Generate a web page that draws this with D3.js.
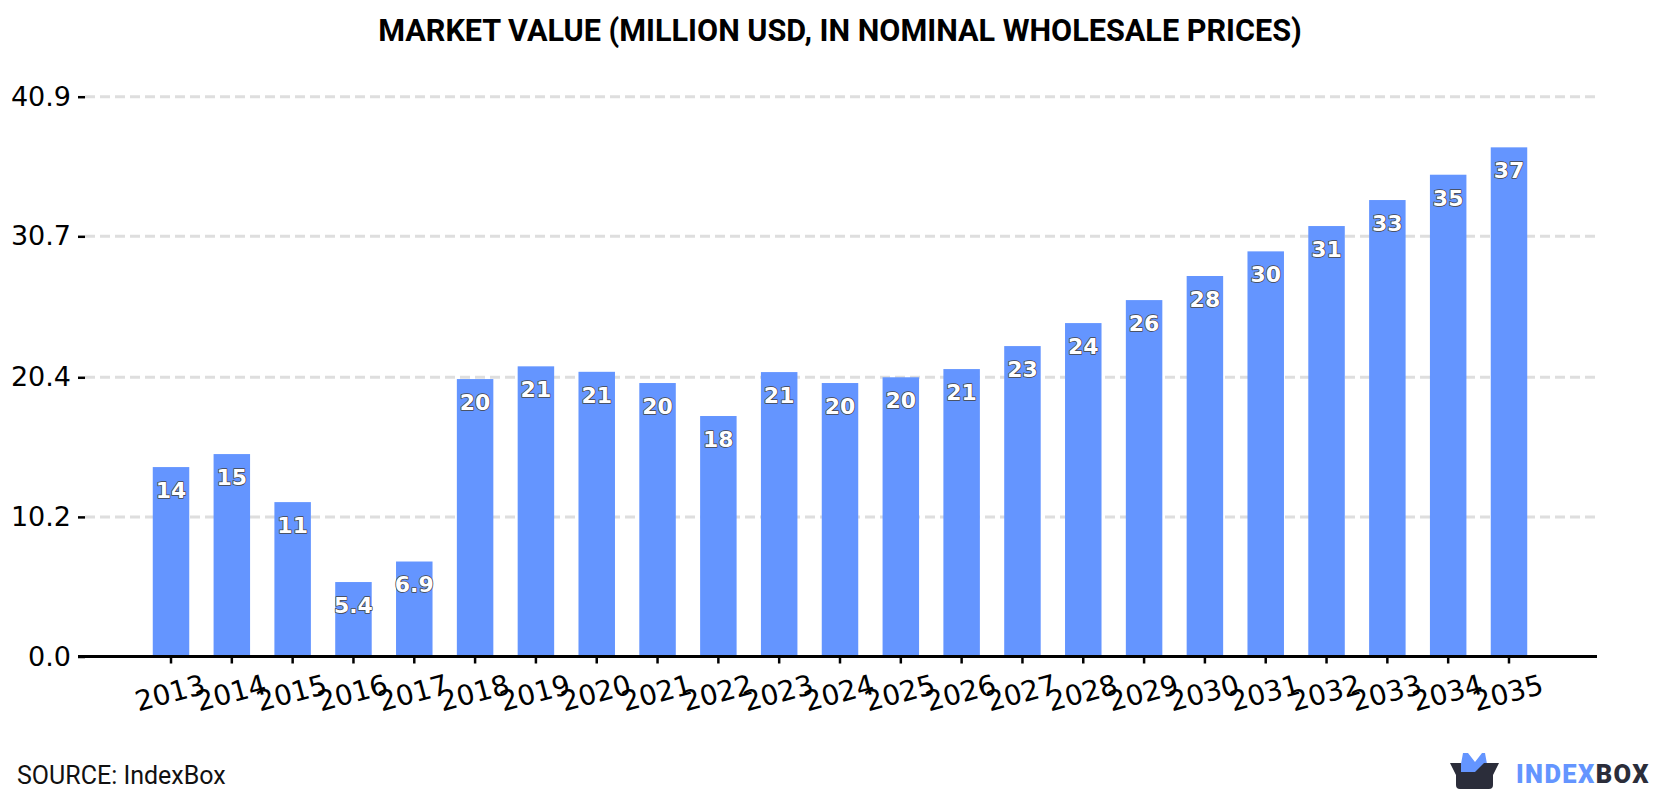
<!DOCTYPE html>
<html>
<head>
<meta charset="utf-8">
<script src="https://cdn.jsdelivr.net/npm/d3@7/dist/d3.min.js"></script>
<style>
html, body { margin: 0; padding: 0; background: #fff; }
svg { display: block; }
</style>
</head>
<body>
<svg id="chart" width="1680" height="800"></svg>
<script>
const years = [2013, 2014, 2015, 2016, 2017, 2018, 2019, 2020, 2021, 2022, 2023, 2024,
               2025, 2026, 2027, 2028, 2029, 2030, 2031, 2032, 2033, 2034, 2035];
const marketValue = [13.84, 14.79, 11.28, 5.44, 6.94, 20.27, 21.2, 20.8, 19.98, 17.57, 20.78, 19.98,
                     20.4, 21.0, 22.68, 24.36, 26.04, 27.8, 29.6, 31.45, 33.35, 35.2, 37.2];
const yTicks = [0, 10.2, 20.4, 30.7, 40.9];
const titleText = "MARKET VALUE (MILLION USD, IN NOMINAL WHOLESALE PRICES)";
const sourceText = "SOURCE: IndexBox";

const BAR = "#6495ff";
const INK = "#000";
const DEJAVU = "'DejaVu Sans', sans-serif";
const ROBOTO = "Roboto, sans-serif";

const svg = d3.select("#chart");

const x = d3.scaleBand()
  .domain(years)
  .range([140.6, 1539.4])
  .paddingInner(0.4)
  .paddingOuter(0.2);

const y = d3.scaleLinear()
  .domain([0, 40.9])
  .range([656.5, 96.7]);

// Dashed horizontal grid, behind the bars
svg.append("g")
  .selectAll("line")
  .data(yTicks.filter(d => d > 0))
  .join("line")
  .attr("x1", 85)
  .attr("x2", 1596)
  .attr("y1", d => y(d))
  .attr("y2", d => y(d))
  .attr("stroke", "#dedede")
  .attr("stroke-width", 3)
  .attr("stroke-dasharray", "10,5");

// Bars
svg.append("g")
  .selectAll("rect")
  .data(marketValue)
  .join("rect")
  .attr("x", (d, i) => x(years[i]))
  .attr("width", x.bandwidth())
  .attr("y", d => y(d))
  .attr("height", d => y(0) - y(d))
  .attr("fill", BAR);

// Value labels: two significant digits, white with a thin grey outline
const valueLabel = d3.format(".2~r");
svg.append("g")
  .selectAll("text")
  .data(marketValue)
  .join("text")
  .attr("x", (d, i) => x(years[i]) + x.bandwidth() / 2)
  .attr("y", d => y(d) + 23)
  .attr("dy", "0.36em")
  .attr("text-anchor", "middle")
  .attr("font-family", DEJAVU)
  .attr("font-weight", 700)
  .attr("font-size", 22)
  .attr("fill", "#fff")
  .attr("stroke", "#444")
  .attr("stroke-width", 1.5)
  .attr("paint-order", "stroke")
  .attr("stroke-linejoin", "round")
  .text(d => valueLabel(d));

// Left axis: tick marks and labels only
const yAxis = svg.append("g")
  .attr("transform", "translate(85,0)")
  .call(d3.axisLeft(y).tickValues(yTicks).tickFormat(d3.format(".1f")).tickSize(7).tickPadding(7));
yAxis.select(".domain").remove();
yAxis.selectAll("line").attr("stroke", INK).attr("stroke-width", 2.5);
yAxis.selectAll("text")
  .attr("font-family", DEJAVU)
  .attr("font-size", 27)
  .attr("fill", INK);

// Bottom axis: baseline, ticks, slanted year labels
const xAxis = svg.append("g")
  .attr("transform", `translate(0,${y(0)})`)
  .call(d3.axisBottom(x).tickSize(7).tickSizeOuter(0));
xAxis.select(".domain").remove();
xAxis.append("line")
  .attr("x1", 78)
  .attr("x2", 1597)
  .attr("stroke", INK)
  .attr("stroke-width", 3);
xAxis.selectAll(".tick line").attr("stroke", INK).attr("stroke-width", 2.5);
xAxis.selectAll(".tick text")
  .attr("font-family", DEJAVU)
  .attr("font-size", 28)
  .attr("fill", INK)
  .attr("text-anchor", "middle")
  .attr("dy", "0.36em")
  .attr("y", 0)
  .attr("transform", "translate(-1,36) rotate(-15)");

// Title and source line
svg.append("text")
  .attr("x", 840)
  .attr("y", 41)
  .attr("text-anchor", "middle")
  .attr("font-family", ROBOTO)
  .attr("font-weight", 700)
  .attr("font-size", 30.6)
  .attr("fill", INK)
  .text(titleText);

svg.append("text")
  .attr("x", 17)
  .attr("y", 784)
  .attr("font-family", ROBOTO)
  .attr("font-size", 25)
  .attr("fill", "#111")
  .text(sourceText);

// Brand mark: open box with a blue crown, then the wordmark
const logo = svg.append("g");
logo.append("path")
  .attr("fill", BAR)
  .attr("d", "M1461,764 L1463,753 L1468,753 L1475,762 L1482,753 L1485,753 L1487,764 Z");
logo.append("path")
  .attr("fill", "#2b2d3a")
  .attr("d", "M1450,763 L1499,763 L1493,775 L1493,785 Q1493,789 1489,789 L1460,789 Q1456,789 1456,785 L1456,775 Z");
logo.append("path")
  .attr("fill", BAR)
  .attr("d", "M1461,763 L1484,763 L1475,772 L1461,772 Z");

const wordmark = svg.append("text")
  .attr("x", 1516)
  .attr("y", 783)
  .attr("font-family", ROBOTO)
  .attr("font-weight", 900)
  .attr("font-size", 25.5)
  .attr("letter-spacing", 1.4);
wordmark.append("tspan").attr("fill", BAR).text("INDEX");
wordmark.append("tspan").attr("fill", "#2b2d3a").text("BOX");
</script>
</body>
</html>
